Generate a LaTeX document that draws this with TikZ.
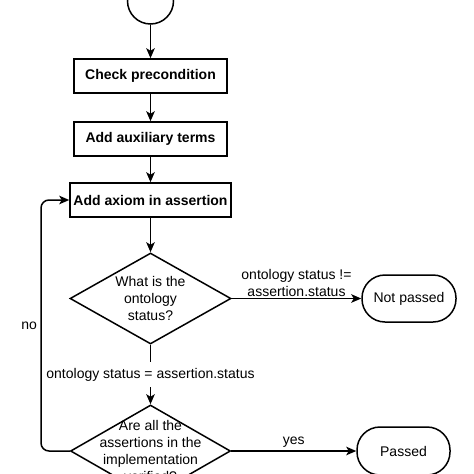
\documentclass[tikz,border=0pt]{standalone}
\usepackage{fontspec}
\setmainfont{Liberation Sans}
\usetikzlibrary{shapes.geometric,arrows.meta}
\begin{document}
\begin{tikzpicture}[
  x=1pt, y=-1pt,
  every node/.style={font=\fontsize{14}{17}\selectfont},
  box/.style={rectangle, draw=black, line width=1.5pt, minimum height=34pt, font=\fontsize{14}{17}\selectfont\bfseries},
  dec/.style={diamond, draw=black, line width=1.5pt, minimum width=161pt, minimum height=91pt, inner sep=0pt},
  term/.style={rectangle, rounded corners=23pt, draw=black, line width=1.5pt, minimum width=94pt, minimum height=47pt},
  e/.style={line width=1.5pt, draw=black, -{Stealth[length=10pt, width=8.5pt, inset=2.5pt]}}
]

% (pixel coordinates of the reference, y pointing down)
\useasboundingbox (0,0) rectangle (474,474);
\clip (0,0) rectangle (474,474);

% --- Nodes ---
\node[circle, draw=black, line width=1.5pt, minimum size=46pt] (start) at (150.5,1) {};
\node[box, minimum width=153pt] (check) at (150.5,76)  {Check precondition};
\node[box, minimum width=153pt] (aux)   at (150.5,139) {Add auxiliary terms};
\node[box, minimum width=161pt] (axiom) at (150.5,200) {Add axiom in assertion};
\node[dec, label={[align=center]center:What is the\\ontology\\status?}] (status) at (150.5,298.5) {};
\node[dec, minimum width=160pt, minimum height=92pt,
      label={[align=center]center:Are all the\\assertions in the\\implementation\\verified?}] (allver) at (150.5,451) {};
\node[term] (notpassed) at (409,298.5) {Not passed};
\node[term, minimum width=93pt, minimum height=48pt] (passed) at (403.5,451) {Passed};
\coordinate (back) at (41,200);

% --- Edges ---
\draw[e] (start) -- (check);
\draw[e] (check) -- (aux);
\draw[e] (aux) -- (axiom);
\draw[e] (axiom) -- (status);
\draw[e] (status) -- node[fill=white, inner xsep=2pt, inner ysep=6pt] {ontology status = assertion.status} (allver);
\draw[e] (status) -- node[above, align=center, inner sep=0pt, yshift=1.5pt] {ontology status !=\\assertion.status} (notpassed);
\draw[e] (allver) -- node[above] {yes} (passed);
\draw[e, rounded corners=8pt] (allver.west) -| (back) node[pos=0.75, left] {no} -- (axiom.west);

\end{tikzpicture}
\end{document}
